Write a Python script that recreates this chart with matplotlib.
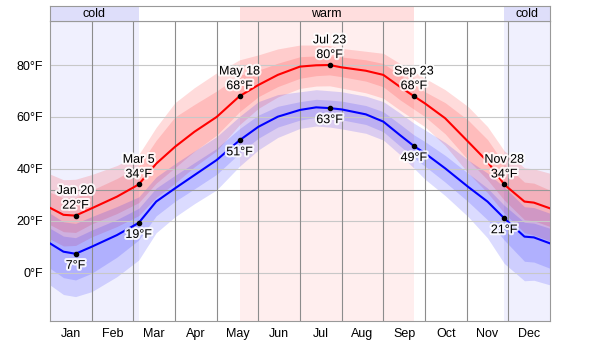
import matplotlib.pyplot as plt
import matplotlib.patheffects as pe
import numpy as np

plt.rcParams['font.family'] = ['Liberation Sans', 'DejaVu Sans']

months = ['Jan', 'Feb', 'Mar', 'Apr', 'May', 'Jun', 'Jul', 'Aug', 'Sep', 'Oct', 'Nov', 'Dec']
month_len = [31, 28, 31, 30, 31, 30, 31, 31, 30, 31, 30, 31]

# sample dates (MM-DD)
dates = ['01-01', '01-11', '01-20', '02-01', '02-18', '03-05', '03-18', '04-01', '04-15',
         '05-01', '05-18', '06-01', '06-15', '07-01', '07-13', '07-23', '08-01', '08-19',
         '09-01', '09-13', '09-23', '10-01', '10-16', '11-02', '11-16', '11-28', '12-13',
         '12-20', '12-31']

high = [25, 22.3, 22, 24.8, 29.3, 34, 42, 48.5, 54.3, 60, 68, 72.3, 76.2, 79.4, 79.9, 80,
        79.1, 77.8, 76.2, 71.6, 68, 65.2, 59.5, 50.5, 42.8, 34, 27.4, 27, 24.8]
high_p90 = [38, 35.8, 36, 37.8, 41.3, 45.5, 56, 65.5, 71.3, 77, 82, 83.9, 86.2, 87.7, 87.7,
            87.5, 86.4, 85.3, 84.5, 80.6, 77.5, 74.9, 70.5, 64, 56.3, 47, 40.4, 40, 38.3]
high_p75 = [31, 28.8, 29, 31.8, 36.3, 41, 51, 60, 64.8, 70, 76, 78, 80.7, 83.2, 83.5, 83.5,
            83.1, 82, 80.6, 76.1, 72.5, 69.7, 65.5, 58.8, 51.3, 42, 34.9, 34.5, 31.8]
high_p25 = [18.5, 15.8, 15.5, 18.8, 22.8, 27, 34.5, 40.5, 46.8, 53, 62, 67.8, 71.7, 74.9,
            75.9, 76.2, 75.5, 73.8, 71.6, 66.6, 63, 60.1, 53.5, 43.5, 35.8, 28, 20.4, 20, 17.8]
high_p10 = [13, 10.3, 10.5, 13.8, 17.8, 22, 29, 34.5, 40.8, 47, 57, 63.3, 67.7, 71, 71.9, 72,
            71.1, 69.3, 67.2, 62.6, 59, 56.2, 49, 38.5, 30.8, 23, 15.4, 14.5, 12.3]

low = [11.3, 8.1, 7.3, 10, 14.5, 19.2, 27.4, 32.5, 37.6, 43.4, 51, 56.2, 60.1, 62.7, 63.7,
       63.4, 62.9, 61, 58.2, 53, 48.8, 46, 40.2, 33.1, 27.4, 21, 13.9, 13.6, 11.3]
low_p90 = [22.9, 19.6, 19, 21.6, 25.5, 29.2, 36.9, 42, 46.9, 52.4, 60.2, 65.9, 68.6, 69.7,
           70.5, 70.1, 69.7, 68, 65.9, 61.5, 57.6, 55, 50.2, 43.4, 38.4, 33, 25.4, 25.1, 22.9]
low_p75 = [17.1, 14.1, 13.5, 16.4, 20.5, 24.8, 32.6, 37.5, 42.4, 47.9, 55.5, 60.7, 64.1, 65.9,
           66.8, 66.5, 66.1, 64.4, 62, 57.2, 53.1, 50.5, 45.2, 38.3, 32.6, 26, 19.4, 19.1, 17.1]
low_p25 = [1.7, -1.9, -2.8, -0.2, 6, 12.6, 21.9, 27.5, 32.3, 37.9, 46, 51.8, 56.1, 58.8, 59.8,
           59.5, 58.9, 57.1, 54.3, 48.8, 44.3, 41, 34.9, 27.4, 20.4, 12.6, 4.4, 4.1, 1.7]
low_p10 = [-4.7, -8.4, -9.2, -7.3, -1.5, 4.9, 15.4, 21.5, 26.6, 31.9, 41, 47.3, 52.1, 55.6,
           56.5, 56.1, 55.4, 53.7, 51.1, 45.5, 40.3, 36, 29.7, 21.6, 13.4, 3.6, -3.1, -2.9, -4.7]

# annotated dates
mark_dates = ['01-20', '03-05', '05-18', '07-23', '09-23', '11-28']
mark_names = ['Jan 20', 'Mar 5', 'May 18', 'Jul 23', 'Sep 23', 'Nov 28']

seasons = [('cold', '01-01', '03-05'), ('warm', '05-18', '09-23'), ('cold', '11-28', '12-31')]
yticks = [0, 20, 40, 60, 80]


def to_x(s):
    m, d = int(s[:2]), int(s[3:])
    if s == '12-31':
        return 12.0
    return (m - 1) + (d - 1) / month_len[m - 1]


x = np.array([to_x(d) for d in dates])

fig = plt.figure(figsize=(6, 3.44), dpi=100)
ax = fig.add_axes([50 / 600, 1 - 321 / 344, 500 / 600, 300 / 344])
hd = fig.add_axes([50 / 600, 1 - 21 / 344, 500 / 600, 15 / 344])

bg = {'cold': '#f0f0fe', 'warm': '#ffeeee'}
hdc = {'cold': '#dedefa', 'warm': '#ffdede'}
for name, a, b in seasons:
    ax.axvspan(to_x(a), to_x(b), color=bg[name], lw=0, zorder=0)
    hd.axvspan(to_x(a), to_x(b), color=hdc[name], lw=0, zorder=0)
    hd.text((to_x(a) + to_x(b)) / 2, 0.45, name, ha='center', va='center', fontsize=9)

ax.fill_between(x, high_p10, high_p90, color='red', alpha=0.14, lw=0, zorder=1)
ax.fill_between(x, high_p25, high_p75, color='red', alpha=0.14, lw=0, zorder=1)
ax.fill_between(x, low_p10, low_p90, color='blue', alpha=0.14, lw=0, zorder=1)
ax.fill_between(x, low_p25, low_p75, color='blue', alpha=0.14, lw=0, zorder=1)

for v in yticks:
    ax.axhline(v, color='#c8c8c8', lw=0.8, zorder=2)
ax.axhline(32, color='#999999', lw=0.8, zorder=2)
for m in range(1, 12):
    ax.axvline(m, color='#8c8c8c', lw=0.8, zorder=2)

ax.plot(x, high, color='#ff0000', lw=1.5, zorder=3)
ax.plot(x, low, color='#0000ff', lw=1.5, zorder=3)

halo = [pe.withStroke(linewidth=3, foreground='white', alpha=0.85)]
hv = dict(zip(dates, high))
lv = dict(zip(dates, low))
for name, d in zip(mark_names, mark_dates):
    xm, yh, yl = to_x(d), hv[d], lv[d]
    ax.plot([xm, xm], [yh, yl], 'o', color='black', ms=3, zorder=4)
    ax.annotate(f'{name}\n{round(yh)}°F', (xm, yh), xytext=(0, 4), textcoords='offset pixels',
                ha='center', va='bottom', fontsize=9, linespacing=1.3,
                path_effects=halo, zorder=5)
    ax.annotate(f'{round(yl)}°F', (xm, yl), xytext=(0, -6), textcoords='offset pixels',
                ha='center', va='top', fontsize=9, path_effects=halo, zorder=5)

ax.set_xlim(0, 12)
ax.set_ylim(-18.6, 96.96)
ax.set_xticks(range(1, 12))
ax.set_xticklabels([])
ax.set_xticks(np.arange(12) + 0.5, minor=True)
ax.set_xticklabels(months, minor=True)
ax.set_yticks(yticks)
ax.set_yticklabels([f'{v}°F' for v in yticks])
ax.tick_params(axis='both', which='both', length=0, labelsize=9, pad=5)
for s in ax.spines.values():
    s.set_color('#999999')
    s.set_linewidth(0.8)

hd.set_xlim(0, 12)
hd.set_ylim(0, 1)
hd.set_xticks([])
hd.set_yticks([])
for s in hd.spines.values():
    s.set_color('#999999')
    s.set_linewidth(0.8)

fig.savefig('out.png', dpi=100)
